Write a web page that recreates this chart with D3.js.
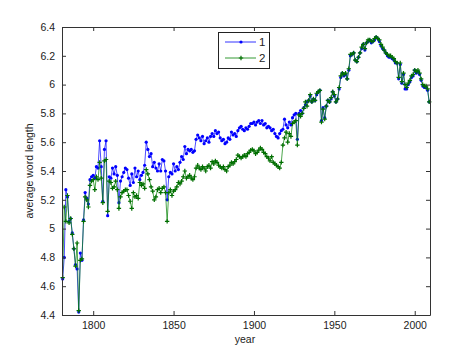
<!DOCTYPE html>
<html><head><meta charset="utf-8">
<script src="https://cdn.jsdelivr.net/npm/d3@7"></script>
<style>body{margin:0;background:#fff}svg{display:block}text{font-family:"Liberation Sans",Arial,sans-serif}</style>
</head><body>
<svg id="c" width="474" height="354"></svg>
<script>
const startYear = 1781;
const series1 = [4.65,4.80,5.27,5.22,5.05,5.07,4.97,4.86,4.75,4.72,4.42,4.83,4.78,5.06,5.25,5.21,5.17,5.34,5.36,5.37,
5.35,5.43,5.42,5.61,5.43,5.19,5.55,5.61,5.09,5.36,
5.35,5.42,5.38,5.43,5.37,5.18,5.33,5.36,5.39,5.42,
5.41,5.35,5.30,5.38,5.32,5.42,5.36,5.40,5.34,5.37,
5.39,5.44,5.60,5.55,5.50,5.52,5.43,5.46,5.42,5.40,
5.45,5.40,5.48,5.47,5.40,5.20,5.36,5.39,5.38,5.45,
5.40,5.43,5.41,5.46,5.50,5.48,5.57,5.52,5.55,5.54,
5.55,5.53,5.54,5.62,5.65,5.63,5.61,5.64,5.59,5.61,
5.63,5.60,5.64,5.66,5.64,5.68,5.66,5.67,5.63,5.61,
5.62,5.59,5.60,5.63,5.62,5.67,5.65,5.66,5.64,5.68,
5.70,5.71,5.69,5.68,5.70,5.69,5.71,5.73,5.73,5.74,
5.72,5.74,5.75,5.73,5.75,5.72,5.73,5.70,5.71,5.70,
5.68,5.69,5.66,5.64,5.63,5.66,5.68,5.69,5.76,5.72,
5.70,5.74,5.72,5.77,5.79,5.80,5.62,5.80,5.82,5.80,
5.84,5.86,5.88,5.89,5.92,5.88,5.90,5.89,5.93,5.95,
5.96,5.75,5.84,5.77,5.85,5.89,5.88,5.90,5.95,5.92,
5.88,5.90,5.97,6.05,6.08,6.06,6.07,6.04,6.10,6.20,
6.21,6.22,6.17,6.16,6.19,6.22,6.25,6.28,6.24,6.29,
6.30,6.31,6.29,6.30,6.31,6.33,6.32,6.30,6.27,6.25,
6.24,6.22,6.20,6.19,6.19,6.18,6.17,6.15,6.15,6.04,
6.14,6.01,6.07,5.97,5.97,6.00,6.02,6.05,6.06,6.10,
6.08,6.09,6.07,6.03,5.99,5.98,5.98,5.96,5.88];
const series2 = [4.66,5.15,5.05,5.23,5.04,5.07,4.96,4.86,4.74,4.90,4.43,4.78,4.79,5.05,5.22,5.20,5.15,5.30,5.33,5.34,
5.27,5.36,5.34,5.46,5.35,5.18,5.47,5.48,5.12,5.33,
5.32,5.28,5.29,5.33,5.27,5.14,5.22,5.25,5.26,5.27,
5.27,5.23,5.19,5.14,5.25,5.22,5.23,5.21,5.32,5.30,
5.31,5.28,5.41,5.38,5.34,5.29,5.26,5.20,5.22,5.27,
5.28,5.25,5.28,5.29,5.25,5.05,5.25,5.27,5.23,5.26,
5.27,5.29,5.32,5.31,5.33,5.36,5.40,5.35,5.36,5.37,
5.35,5.34,5.36,5.42,5.44,5.42,5.41,5.43,5.42,5.40,
5.43,5.44,5.42,5.465,5.45,5.47,5.46,5.44,5.43,5.42,
5.43,5.41,5.40,5.43,5.44,5.46,5.45,5.465,5.48,5.51,
5.50,5.49,5.50,5.51,5.50,5.52,5.53,5.545,5.55,5.54,
5.52,5.53,5.545,5.56,5.55,5.53,5.52,5.50,5.49,5.47,
5.50,5.46,5.45,5.44,5.43,5.42,5.46,5.58,5.63,5.67,
5.60,5.66,5.64,5.73,5.74,5.75,5.58,5.79,5.78,5.80,
5.835,5.88,5.85,5.89,5.93,5.88,5.90,5.89,5.94,5.95,
5.96,5.74,5.83,5.76,5.85,5.89,5.88,5.91,5.95,5.93,
5.88,5.90,5.98,6.06,6.08,6.07,6.08,6.04,6.11,6.21,
6.21,6.22,6.17,6.16,6.19,6.22,6.26,6.28,6.25,6.29,
6.31,6.31,6.30,6.30,6.32,6.33,6.32,6.31,6.28,6.26,
6.24,6.22,6.21,6.20,6.20,6.19,6.18,6.16,6.15,6.05,
6.15,6.02,6.08,6.00,5.98,6.01,6.03,6.06,6.07,6.10,
6.09,6.10,6.08,6.04,6.00,5.99,5.99,5.97,5.88];
const xTicks = [1800,1850,1900,1950,2000];
const yTicks = [4.4,4.6,4.8,5,5.2,5.4,5.6,5.8,6,6.2,6.4];
const legendLabels = ["1","2"];

const L=62,R=430,T=27,B=315;
const svg=d3.select("#c");
const x=d3.scaleLinear().domain([1780.6,2009.5]).range([L,R]);
const y=d3.scaleLinear().domain([4.4,6.4]).range([B,T]);
const axisCol="#333";
const d1=series1.map((v,i)=>[startYear+i,v]);
const d2=series2.map((v,i)=>[startYear+i,v]);

svg.append("rect").attr("x",L).attr("y",T).attr("width",R-L).attr("height",B-T).attr("fill","#fff");

const line=d3.line().x(d=>x(d[0])).y(d=>y(d[1]));
function plus(g,data,col){
  g.selectAll("path.m").data(data).join("path").attr("class","m")
   .attr("d",d=>`M${x(d[0])-2.2},${y(d[1])}h4.4M${x(d[0])},${y(d[1])-2.2}v4.4`)
   .attr("stroke",col).attr("stroke-width",1.2).attr("fill","none");
}
const g1=svg.append("g");
g1.append("path").datum(d1).attr("d",line).attr("fill","none").attr("stroke","#0000ff").attr("stroke-width",0.7);
g1.selectAll("circle").data(d1).join("circle").attr("cx",d=>x(d[0])).attr("cy",d=>y(d[1])).attr("r",1.6).attr("fill","#0000ff");
const g2=svg.append("g");
g2.append("path").datum(d2).attr("d",line).attr("fill","none").attr("stroke","#008000").attr("stroke-width",0.7);
plus(g2,d2,"#006e00");

// axes (MATLAB box style, ticks inward)
const ax=svg.append("g").attr("transform",`translate(0,${B})`)
 .call(d3.axisBottom(x).tickValues(xTicks).tickFormat(d3.format("d")).tickSizeInner(-4).tickSizeOuter(0).tickPadding(7));
const axT=svg.append("g").attr("transform",`translate(0,${T})`)
 .call(d3.axisTop(x).tickValues(xTicks).tickFormat("").tickSizeInner(-4).tickSizeOuter(0));
const ay=svg.append("g").attr("transform",`translate(${L},0)`)
 .call(d3.axisLeft(y).tickValues(yTicks).tickFormat(d=>String(+d.toFixed(1))).tickSizeInner(-4).tickSizeOuter(0).tickPadding(7));
const ayR=svg.append("g").attr("transform",`translate(${R},0)`)
 .call(d3.axisRight(y).tickValues(yTicks).tickFormat("").tickSizeInner(-4).tickSizeOuter(0));
[ax,axT,ay,ayR].forEach(a=>{
  a.selectAll("path.domain").attr("stroke",axisCol).attr("stroke-width",1);
  a.selectAll("line").attr("stroke",axisCol);
  a.selectAll("text").attr("fill","#222").style("font-size","10.5px").style("font-family",'"Liberation Sans",Arial,sans-serif');
});

svg.append("text").attr("x",245).attr("y",343).attr("text-anchor","middle").attr("fill","#222").style("font-size","10.5px").text("year");
svg.append("text").attr("transform","translate(33,171) rotate(-90)").attr("text-anchor","middle").attr("fill","#222").style("font-size","10.5px").text("average word length");

// legend
const lg=svg.append("g");
lg.append("rect").attr("x",218.5).attr("y",32.5).attr("width",51).attr("height",36).attr("fill","#fff").attr("stroke","#222").attr("stroke-width",1);
const cols=["#0000ff","#008000"];
legendLabels.forEach((lab,i)=>{
  const yy=42+i*16;
  lg.append("line").attr("x1",225).attr("x2",256).attr("y1",yy).attr("y2",yy).attr("stroke",cols[i]).attr("stroke-width",0.8);
  if(i===0) lg.append("circle").attr("cx",241).attr("cy",yy).attr("r",1.6).attr("fill",cols[i]);
  else lg.append("path").attr("d",`M238.8,${yy}h4.4M241,${yy-2.2}v4.4`).attr("stroke","#006e00").attr("stroke-width",1.2);
  lg.append("text").attr("x",259).attr("y",yy+4).attr("fill","#222").style("font-size","11.5px").text(lab);
});
</script>
</body></html>
